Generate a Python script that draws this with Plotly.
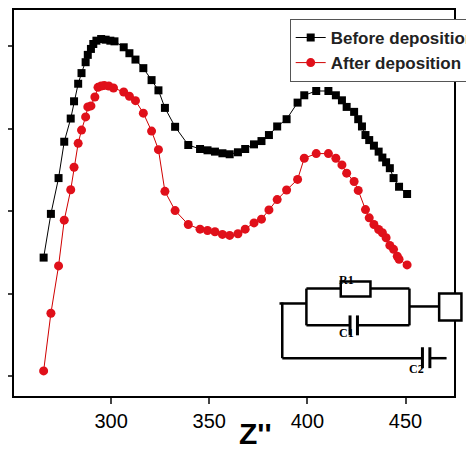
import plotly.graph_objects as go

before_x = [265.6, 269.3, 273.2, 276.1, 279.4, 281.1, 283.2, 284.9, 287.0, 288.1,
            289.7, 290.9, 292.5, 294.9, 297.2, 299.6, 301.7, 306.4, 309.3, 312.4,
            316.4, 320.6, 324.1, 327.4, 332.6, 339.3, 345.3, 349.1, 352.9, 356.7,
            360.4, 364.6, 368.3, 372.8, 376.6, 380.4, 384.6, 389.4, 395.0, 398.4,
            404.5, 410.7, 414.5, 417.6, 420.0, 423.8, 425.9, 427.8, 429.6, 431.5,
            433.9, 436.3, 438.2, 440.1, 442.0, 443.9, 446.7, 450.8]
before_y = [143.8, 196.8, 240.2, 284.3, 312.4, 333.3, 354.6, 367.5, 380.7, 389.6,
            396.8, 402.8, 406.8, 408.8, 408.0, 406.8, 406.0, 398.8, 391.6, 383.9,
            373.5, 359.0, 346.6, 325.3, 302.4, 280.3, 275.5, 273.9, 272.3, 270.3,
            269.1, 271.5, 275.5, 281.1, 285.1, 292.4, 302.8, 311.6, 331.7, 340.6,
            345.8, 345.8, 340.6, 334.5, 326.5, 320.5, 311.6, 302.8, 292.4, 286.3,
            279.5, 272.3, 265.1, 259.4, 252.2, 240.2, 229.7, 220.9]

after_x = [265.6, 269.3, 273.2, 276.1, 279.4, 281.1, 283.2, 284.9, 287.0, 288.1,
           289.7, 291.7, 293.3, 294.9, 296.5, 298.8, 301.2, 306.4, 309.3, 312.4,
           316.4, 320.6, 324.1, 327.4, 332.6, 339.3, 345.3, 349.1, 352.9, 356.7,
           360.4, 364.6, 368.3, 372.8, 376.6, 380.4, 384.6, 389.4, 395.0, 398.4,
           404.5, 410.7, 414.5, 417.6, 420.0, 423.8, 425.9, 429.6, 431.5, 433.9,
           436.3, 438.2, 440.1, 442.0, 443.9, 445.8, 446.7, 450.8]
after_y = [6.4, 76.3, 133.7, 189.2, 226.1, 253.4, 282.3, 298.4, 314.4, 326.5,
           327.7, 338.5, 350.2, 351.8, 352.6, 351.8, 349.4, 344.6, 339.4, 334.1,
           318.9, 297.2, 274.7, 224.1, 200.8, 183.9, 178.3, 176.7, 175.1, 171.9,
           170.7, 172.7, 178.3, 185.9, 190.4, 201.6, 214.1, 225.7, 238.6, 264.3,
           269.9, 269.9, 264.3, 256.2, 246.2, 236.1, 225.3, 202.0, 192.0, 183.9,
           177.9, 173.9, 167.9, 158.6, 153.8, 145.4, 141.8, 134.9]

x_ticks = [250, 300, 350, 400, 450]
y_ticks = [0, 100, 200, 300, 400]

W, H = 474, 474
L, R, T, B = 0, 0, 0, 86
OFF = 8  # page body margin


def px(x, y):
    # page pixel position -> paper coordinates
    fx, fy = x - OFF, y - OFF
    return (fx - L) / (W - L - R), (H - B - fy) / (H - T - B)


def seg(x0, y0, x1, y1, width=2.5):
    a, b = px(x0, y0)
    c, d = px(x1, y1)
    return dict(type="line", xref="paper", yref="paper", x0=a, y0=b, x1=c, y1=d,
                line=dict(color="black", width=width))


def box(x0, y0, x1, y1):
    a, b = px(x0, y0)
    c, d = px(x1, y1)
    return dict(type="rect", xref="paper", yref="paper", x0=a, y0=d, x1=c, y1=b,
                line=dict(color="black", width=2.5), fillcolor="white")


fig = go.Figure()
fig.add_trace(go.Scatter(x=before_x, y=before_y, mode="lines+markers", name="<b>Before deposition</b>",
                         line=dict(color="black", width=1),
                         marker=dict(symbol="square", size=8, color="black")))
fig.add_trace(go.Scatter(x=after_x, y=after_y, mode="lines+markers", name="<b>After deposition</b>",
                         line=dict(color="#d00000", width=1),
                         marker=dict(symbol="circle", size=9, color="#e0101a")))

shapes = [
    seg(294, 303, 323, 303), seg(297, 302, 297, 358), seg(297, 358, 448, 358),
    seg(448, 347, 448, 368, 3), seg(456, 347, 456, 368, 3), seg(456, 358, 474, 358),
    seg(323, 288, 323, 325), seg(323, 288, 360, 288), seg(392, 288, 434, 288),
    seg(434, 288, 434, 325), seg(323, 325, 370, 325), seg(378, 325, 434, 325),
    seg(370, 315, 370, 335, 3), seg(378, 315, 378, 335, 3), seg(434, 306, 466, 306),
    box(360, 281, 392, 296), box(466, 293, 490, 320),
]
ann = []
for label, x, y in [("R1", 376, 288), ("C1", 376, 342), ("C2", 452, 378)]:
    a, b = px(x, y)
    ann.append(dict(text="<b>" + label + "</b>", x=a, y=b, xref="paper", yref="paper",
                    showarrow=False, font=dict(family="Liberation Serif", size=12, color="black")))
a, b = px(268, 452)
ann.append(dict(text="<b>Z''</b>", x=a, y=b, xref="paper", yref="paper", showarrow=False,
                font=dict(family="Liberation Sans", size=30, color="black")))

lx, ly = px(305, 17)
fig.update_layout(
    width=W, height=H,
    margin=dict(l=L, r=R, t=T, b=B),
    paper_bgcolor="white", plot_bgcolor="white",
    font=dict(family="Liberation Sans", color="black"),
    showlegend=True,
    legend=dict(x=lx, y=ly, xanchor="left", yanchor="top",
                bordercolor="#555", borderwidth=1, bgcolor="white",
                font=dict(size=17, color="#222")),
    xaxis=dict(range=[250.5, 474.7], tickvals=x_ticks, showline=True, linecolor="black",
               linewidth=2, mirror=True, ticks="outside", ticklen=6, tickwidth=2,
               showgrid=False, zeroline=False,
               tickfont=dict(family="Liberation Sans", size=20, color="black")),
    yaxis=dict(range=[-24, 444], tickvals=y_ticks, showticklabels=False, showline=True,
               linecolor="black", linewidth=2, mirror=True, ticks="outside", ticklen=6,
               tickwidth=2, showgrid=False, zeroline=False),
    shapes=shapes, annotations=ann,
)
fig.update_xaxes(tickprefix="<b>", ticksuffix="</b>")
fig.write_html("out.html")
